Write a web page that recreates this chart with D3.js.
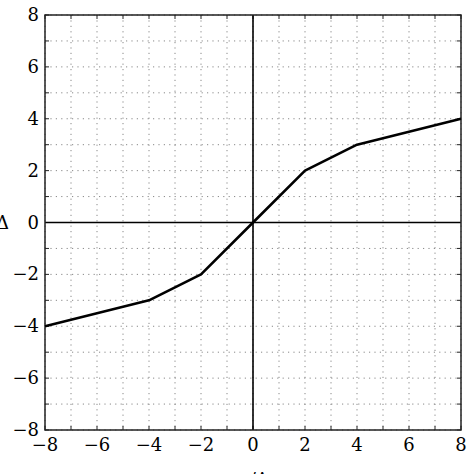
<!DOCTYPE html>
<html>
<head>
<meta charset="utf-8">
<script src="https://cdn.jsdelivr.net/npm/d3@7"></script>
<style>
  body { margin: 0; background: #fff; }
  svg text { font-family: "DejaVu Serif", serif; }
</style>
</head>
<body>
<svg id="chart" width="474" height="474"></svg>
<script>
// curve points
var xs = [-8, -4, -2, 0, 2, 4, 8];
var ys = [-4, -3, -2, 0, 2, 3, 4];
var tickVals = [-8, -6, -4, -2, 0, 2, 4, 6, 8];
var minorVals = d3.range(-8, 9, 1);

var svg = d3.select("#chart");
var pl = 45, pr = 461, pt = 15, pb = 430;

var x = d3.scaleLinear().domain([-8, 8]).range([pl, pr]);
var y = d3.scaleLinear().domain([-8, 8]).range([pb, pt]);

// dotted grid
var grid = svg.append("g");
grid.selectAll("line.gx").data(minorVals).enter().append("line")
    .attr("x1", function(d){ return x(d); }).attr("x2", function(d){ return x(d); })
    .attr("y1", pt).attr("y2", pb)
    .attr("stroke", "#888").attr("stroke-width", 1)
    .attr("stroke-dasharray", "1.2,4.2");
grid.selectAll("line.gy").data(minorVals).enter().append("line")
    .attr("y1", function(d){ return y(d); }).attr("y2", function(d){ return y(d); })
    .attr("x1", pl).attr("x2", pr)
    .attr("stroke", "#888").attr("stroke-width", 1)
    .attr("stroke-dasharray", "1.2,4.2");

// inward ticks on all four sides
var tk = 4;
var ticks = svg.append("g").attr("stroke", "#222").attr("stroke-width", 1);
minorVals.forEach(function(d){
    ticks.append("line").attr("x1", x(d)).attr("x2", x(d)).attr("y1", pb).attr("y2", pb - tk);
    ticks.append("line").attr("x1", x(d)).attr("x2", x(d)).attr("y1", pt).attr("y2", pt + tk);
    ticks.append("line").attr("y1", y(d)).attr("y2", y(d)).attr("x1", pl).attr("x2", pl + tk);
    ticks.append("line").attr("y1", y(d)).attr("y2", y(d)).attr("x1", pr).attr("x2", pr - tk);
});

// zero axes
svg.append("line").attr("x1", x(0)).attr("x2", x(0)).attr("y1", pt).attr("y2", pb)
    .attr("stroke", "#000").attr("stroke-width", 1.6);
svg.append("line").attr("x1", pl).attr("x2", pr).attr("y1", y(0)).attr("y2", y(0))
    .attr("stroke", "#000").attr("stroke-width", 1.6);

// frame
svg.append("rect").attr("x", pl).attr("y", pt)
    .attr("width", pr - pl).attr("height", pb - pt)
    .attr("fill", "none").attr("stroke", "#222").attr("stroke-width", 1.5);

// tick labels
function fmt(d){ return d < 0 ? "\u2212" + (-d) : "" + d; }
svg.selectAll("text.xl").data(tickVals).enter().append("text")
    .attr("x", function(d){ return x(d); }).attr("y", pb + 21)
    .attr("text-anchor", "middle").attr("font-size", 18)
    .text(fmt);
svg.selectAll("text.yl").data(tickVals).enter().append("text")
    .attr("x", pl - 6).attr("y", function(d){ return y(d) + 6; })
    .attr("text-anchor", "end").attr("font-size", 18)
    .text(fmt);

// axis labels (cut off by the edges in the original)
svg.append("text").attr("x", 9).attr("y", y(0) + 6)
    .attr("text-anchor", "end").attr("font-size", 18).text("\u0394");
svg.append("text").attr("x", 252).attr("y", 486)
    .attr("text-anchor", "middle").attr("font-size", 18).text("\u03c9/\u0394");

// curve
var pts = xs.map(function(d, i){ return [d, ys[i]]; });
svg.append("path").datum(pts)
    .attr("d", d3.line().x(function(d){ return x(d[0]); }).y(function(d){ return y(d[1]); }))
    .attr("fill", "none").attr("stroke", "#000").attr("stroke-width", 2.6)
    .attr("stroke-linejoin", "round");
</script>
</body>
</html>
